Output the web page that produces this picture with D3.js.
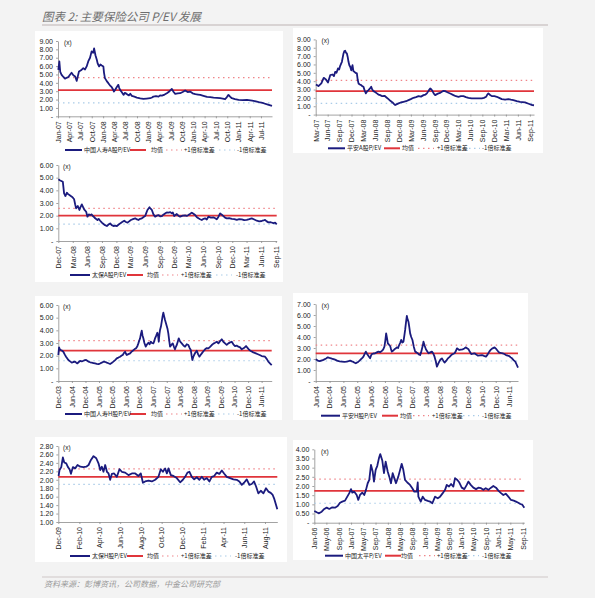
<!DOCTYPE html>
<html><head><meta charset="utf-8">
<script src="https://cdn.jsdelivr.net/npm/d3@7"></script>
<style>body{margin:0;background:#f3f3f3;} svg{display:block}</style>
</head><body><svg id="c" width="595" height="598"></svg>
<script>
// ---------- DATA (decimal year, P/EV) ----------
const chinaLifeA = [[2007.007,5.56],[2007.03,6.55],[2007.05,5.3],[2007.08,4.96],[2007.12,4.7],[2007.155,4.5],[2007.19,4.6],[2007.23,4.7],[2007.27,5.0],[2007.30,5.2],[2007.34,4.9],[2007.38,4.75],[2007.415,4.24],[2007.44,4.8],[2007.465,5.36],[2007.51,5.5],[2007.56,5.76],[2007.60,5.6],[2007.635,5.96],[2007.67,6.56],[2007.71,7.0],[2007.745,7.76],[2007.78,7.6],[2007.80,8.12],[2007.83,7.3],[2007.86,6.76],[2007.88,6.3],[2007.91,5.96],[2007.94,6.2],[2007.97,6.08],[2008.005,5.96],[2008.02,5.2],[2008.04,4.56],[2008.08,4.2],[2008.115,3.96],[2008.15,3.7],[2008.19,3.48],[2008.22,3.2],[2008.24,2.96],[2008.27,3.2],[2008.30,3.48],[2008.335,3.76],[2008.355,3.4],[2008.375,3.16],[2008.41,2.9],[2008.45,2.56],[2008.48,2.8],[2008.52,2.68],[2008.57,2.5],[2008.60,2.7],[2008.635,2.44],[2008.69,2.35],[2008.745,2.24],[2008.82,2.15],[2008.89,2.08],[2008.96,2.12],[2009.04,2.16],[2009.08,2.25],[2009.11,2.35],[2009.17,2.4],[2009.225,2.35],[2009.26,2.5],[2009.30,2.47],[2009.36,2.6],[2009.41,2.76],[2009.47,3.0],[2009.52,3.28],[2009.56,2.9],[2009.595,2.68],[2009.65,2.75],[2009.705,2.76],[2009.76,2.9],[2009.815,3.08],[2009.87,2.9],[2009.925,2.96],[2009.98,2.75],[2010.04,2.64],[2010.10,2.6],[2010.15,2.56],[2010.22,2.45],[2010.30,2.32],[2010.37,2.3],[2010.445,2.24],[2010.52,2.2],[2010.59,2.16],[2010.65,2.1],[2010.70,2.04],[2010.74,2.3],[2010.775,2.56],[2010.81,2.35],[2010.85,2.16],[2010.92,2.05],[2011.0,1.96],[2011.09,1.93],[2011.185,1.96],[2011.3,1.88],[2011.405,1.76],[2011.48,1.65],[2011.55,1.56],[2011.65,1.4],[2011.74,1.24]];
const pingAnA = [[2007.167,3.61],[2007.22,3.41],[2007.28,3.73],[2007.33,4.40],[2007.377,4.21],[2007.42,3.85],[2007.467,4.72],[2007.515,4.8],[2007.545,4.6],[2007.572,5.12],[2007.60,5.0],[2007.63,5.52],[2007.655,5.4],[2007.677,5.84],[2007.713,6.32],[2007.747,7.32],[2007.765,7.6],[2007.783,7.64],[2007.80,7.4],[2007.818,7.32],[2007.835,6.9],[2007.852,6.32],[2007.87,5.9],[2007.888,5.72],[2007.91,5.3],[2007.936,5.92],[2007.955,5.2],[2007.978,5.12],[2008.0,5.0],[2008.028,4.93],[2008.045,4.2],[2008.062,3.73],[2008.09,3.6],[2008.119,3.53],[2008.14,3.4],[2008.167,3.33],[2008.19,2.9],[2008.217,2.54],[2008.245,2.8],[2008.272,2.93],[2008.30,3.1],[2008.329,3.33],[2008.35,3.0],[2008.377,2.81],[2008.41,2.7],[2008.448,2.54],[2008.48,2.4],[2008.518,2.33],[2008.56,2.2],[2008.608,2.25],[2008.65,2.05],[2008.692,1.85],[2008.73,1.65],[2008.776,1.46],[2008.81,1.25],[2008.833,1.14],[2008.87,1.25],[2008.902,1.34],[2008.95,1.45],[2009.007,1.53],[2009.06,1.6],[2009.112,1.73],[2009.16,1.85],[2009.217,2.01],[2009.27,2.1],[2009.323,2.21],[2009.375,2.15],[2009.428,2.33],[2009.47,2.4],[2009.499,2.54],[2009.54,2.9],[2009.568,3.13],[2009.595,3.0],[2009.617,2.81],[2009.645,2.5],[2009.673,2.33],[2009.71,2.45],[2009.743,2.54],[2009.78,2.6],[2009.814,2.73],[2009.85,2.85],[2009.883,2.81],[2009.92,2.7],[2009.953,2.61],[2010.0,2.5],[2010.058,2.33],[2010.11,2.2],[2010.163,2.13],[2010.215,2.2],[2010.268,2.21],[2010.32,2.1],[2010.373,2.01],[2010.44,1.95],[2010.514,1.94],[2010.58,1.94],[2010.654,1.94],[2010.70,2.0],[2010.745,2.13],[2010.77,2.4],[2010.793,2.54],[2010.83,2.35],[2010.865,2.21],[2010.92,2.2],[2010.97,2.13],[2011.02,2.0],[2011.075,1.85],[2011.145,1.8],[2011.213,1.85],[2011.265,1.78],[2011.318,1.73],[2011.39,1.62],[2011.459,1.53],[2011.51,1.5],[2011.564,1.46],[2011.64,1.3],[2011.717,1.14],[2011.753,1.12]];
const cpicA = [[2007.917,4.87],[2007.94,4.8],[2007.958,4.76],[2007.993,4.68],[2008.015,3.76],[2008.038,3.55],[2008.062,3.81],[2008.085,3.7],[2008.107,3.63],[2008.148,3.5],[2008.17,3.4],[2008.188,3.29],[2008.205,2.9],[2008.222,2.58],[2008.251,2.76],[2008.279,2.45],[2008.30,2.7],[2008.32,2.89],[2008.34,2.7],[2008.36,2.50],[2008.395,2.31],[2008.417,1.92],[2008.44,2.1],[2008.464,2.05],[2008.49,2.1],[2008.51,1.97],[2008.53,1.9],[2008.55,1.79],[2008.589,1.66],[2008.61,1.75],[2008.636,1.6],[2008.665,1.45],[2008.693,1.34],[2008.72,1.25],[2008.751,1.18],[2008.78,1.3],[2008.808,1.39],[2008.835,1.25],[2008.865,1.18],[2008.895,1.22],[2008.924,1.18],[2008.95,1.28],[2008.98,1.39],[2009.015,1.5],[2009.05,1.6],[2009.08,1.5],[2009.107,1.45],[2009.135,1.55],[2009.165,1.66],[2009.20,1.72],[2009.24,1.79],[2009.27,1.7],[2009.296,1.66],[2009.325,1.75],[2009.355,1.79],[2009.385,1.9],[2009.412,1.97],[2009.43,2.2],[2009.451,2.45],[2009.486,2.66],[2009.505,2.55],[2009.527,2.45],[2009.555,2.1],[2009.584,1.92],[2009.61,2.0],[2009.641,2.05],[2009.67,1.95],[2009.7,1.97],[2009.73,2.1],[2009.757,2.18],[2009.785,2.25],[2009.813,2.24],[2009.845,2.28],[2009.872,2.18],[2009.89,2.25],[2009.912,1.97],[2009.935,2.05],[2009.958,2.13],[2009.985,2.0],[2010.015,1.92],[2010.06,2.0],[2010.101,2.03],[2010.13,1.98],[2010.158,2.05],[2010.19,2.15],[2010.217,2.24],[2010.245,2.15],[2010.274,2.05],[2010.30,1.9],[2010.331,1.79],[2010.36,1.72],[2010.389,1.66],[2010.42,1.75],[2010.446,1.79],[2010.475,1.7],[2010.503,1.92],[2010.545,1.85],[2010.589,1.87],[2010.62,1.8],[2010.648,1.71],[2010.675,1.9],[2010.705,2.18],[2010.735,2.08],[2010.762,1.97],[2010.79,1.85],[2010.82,1.79],[2010.86,1.8],[2010.907,1.74],[2010.95,1.72],[2010.993,1.66],[2011.035,1.72],[2011.079,1.71],[2011.12,1.65],[2011.165,1.66],[2011.21,1.72],[2011.251,1.79],[2011.295,1.7],[2011.338,1.6],[2011.38,1.55],[2011.424,1.58],[2011.455,1.62],[2011.481,1.66],[2011.51,1.55],[2011.538,1.47],[2011.58,1.48],[2011.624,1.42],[2011.655,1.45],[2011.682,1.32]];
const chinaLifeH = [[2003.917,2.05],[2003.943,2.66],[2003.97,2.5],[2004.005,2.45],[2004.05,2.4],[2004.1,2.31],[2004.15,2.1],[2004.2,1.92],[2004.24,1.8],[2004.285,1.66],[2004.35,1.55],[2004.411,1.45],[2004.47,1.5],[2004.533,1.53],[2004.575,1.45],[2004.618,1.39],[2004.67,1.5],[2004.717,1.58],[2004.78,1.55],[2004.839,1.6],[2004.89,1.65],[2004.938,1.66],[2004.98,1.6],[2005.023,1.53],[2005.09,1.48],[2005.149,1.45],[2005.21,1.42],[2005.27,1.39],[2005.33,1.36],[2005.392,1.34],[2005.45,1.38],[2005.517,1.45],[2005.56,1.5],[2005.602,1.53],[2005.65,1.5],[2005.702,1.45],[2005.76,1.4],[2005.823,1.34],[2005.88,1.42],[2005.945,1.53],[2006.01,1.65],[2006.070,1.79],[2006.13,1.85],[2006.192,1.92],[2006.24,2.0],[2006.291,2.05],[2006.33,2.2],[2006.376,2.31],[2006.41,2.15],[2006.439,2.05],[2006.50,2.12],[2006.561,2.18],[2006.61,2.3],[2006.66,2.39],[2006.72,2.5],[2006.782,2.58],[2006.83,2.75],[2006.867,2.97],[2006.90,3.2],[2006.93,3.37],[2006.96,3.7],[2006.992,3.97],[2007.02,3.6],[2007.051,3.37],[2007.09,3.0],[2007.14,2.71],[2007.19,2.9],[2007.236,3.02],[2007.28,2.9],[2007.324,3.1],[2007.37,3.0],[2007.42,2.97],[2007.455,3.15],[2007.483,3.37],[2007.53,3.6],[2007.567,3.81],[2007.60,3.5],[2007.619,3.1],[2007.645,3.7],[2007.667,4.03],[2007.70,4.3],[2007.73,4.68],[2007.76,5.1],[2007.789,5.39],[2007.82,5.1],[2007.851,4.81],[2007.88,4.6],[2007.914,4.34],[2007.945,4.1],[2007.973,3.76],[2008.005,3.2],[2008.036,2.71],[2008.085,2.85],[2008.135,2.97],[2008.18,2.7],[2008.22,2.5],[2008.25,2.7],[2008.283,2.84],[2008.32,3.1],[2008.357,3.37],[2008.41,3.1],[2008.467,2.97],[2008.53,2.8],[2008.589,2.71],[2008.65,2.9],[2008.711,2.84],[2008.76,2.6],[2008.799,2.45],[2008.83,2.0],[2008.858,1.66],[2008.89,1.9],[2008.921,2.05],[2008.97,2.25],[2009.02,2.39],[2009.07,2.1],[2009.116,1.92],[2009.16,2.05],[2009.205,2.18],[2009.265,2.35],[2009.326,2.5],[2009.39,2.6],[2009.448,2.58],[2009.51,2.7],[2009.573,2.84],[2009.635,2.95],[2009.695,3.02],[2009.76,3.1],[2009.817,2.97],[2009.88,3.15],[2009.942,3.29],[2010.0,3.1],[2010.064,2.97],[2010.125,2.85],[2010.186,2.97],[2010.25,3.05],[2010.311,3.1],[2010.37,2.9],[2010.432,2.76],[2010.49,2.8],[2010.554,2.71],[2010.62,2.65],[2010.679,2.5],[2010.76,2.6],[2010.838,2.76],[2010.90,2.6],[2010.96,2.45],[2011.03,2.35],[2011.107,2.26],[2011.18,2.2],[2011.255,2.13],[2011.34,2.05],[2011.417,1.97],[2011.48,1.95],[2011.538,1.92],[2011.60,1.75],[2011.66,1.53],[2011.72,1.4],[2011.785,1.26]];
const pingAnH = [[2004.417,1.97],[2004.46,1.9],[2004.511,1.82],[2004.56,1.8],[2004.609,1.85],[2004.67,1.9],[2004.728,1.97],[2004.79,2.05],[2004.851,2.15],[2004.91,2.1],[2004.97,2.06],[2005.03,2.0],[2005.09,1.97],[2005.15,1.9],[2005.212,1.82],[2005.28,1.78],[2005.357,1.76],[2005.45,1.74],[2005.538,1.76],[2005.60,1.8],[2005.657,1.85],[2005.72,1.78],[2005.776,1.73],[2005.82,1.66],[2005.863,1.61],[2005.91,1.68],[2005.957,1.76],[2006.0,1.85],[2006.055,2.0],[2006.10,2.1],[2006.138,2.21],[2006.18,2.45],[2006.225,2.67],[2006.26,2.5],[2006.297,2.36],[2006.34,2.2],[2006.38,2.06],[2006.41,2.3],[2006.441,2.45],[2006.50,2.5],[2006.561,2.52],[2006.62,2.6],[2006.68,2.67],[2006.74,2.62],[2006.803,2.73],[2006.85,2.85],[2006.897,3.12],[2006.93,3.7],[2006.959,4.33],[2006.99,3.9],[2007.02,3.42],[2007.06,3.3],[2007.103,3.18],[2007.135,2.9],[2007.165,2.67],[2007.21,2.75],[2007.259,2.88],[2007.30,2.95],[2007.345,3.06],[2007.39,3.0],[2007.429,3.27],[2007.47,3.5],[2007.501,3.73],[2007.545,3.5],[2007.584,3.57],[2007.615,4.1],[2007.645,4.64],[2007.675,5.3],[2007.707,5.91],[2007.735,5.6],[2007.765,5.39],[2007.795,4.9],[2007.826,4.33],[2007.865,4.0],[2007.909,3.73],[2007.96,3.1],[2008.007,2.67],[2008.055,2.6],[2008.104,2.52],[2008.15,2.4],[2008.188,2.36],[2008.22,2.6],[2008.249,2.88],[2008.28,3.2],[2008.307,3.57],[2008.35,3.2],[2008.394,2.88],[2008.44,2.7],[2008.488,2.52],[2008.55,2.6],[2008.611,2.67],[2008.66,2.5],[2008.705,2.21],[2008.75,1.8],[2008.792,1.3],[2008.835,1.55],[2008.875,1.76],[2008.92,1.95],[2008.972,2.06],[2009.02,1.85],[2009.066,1.67],[2009.13,1.85],[2009.189,2.06],[2009.25,2.2],[2009.308,2.36],[2009.37,2.45],[2009.428,2.52],[2009.47,2.7],[2009.515,2.97],[2009.555,2.9],[2009.598,2.82],[2009.66,2.85],[2009.717,2.88],[2009.78,2.95],[2009.84,3.06],[2009.89,2.95],[2009.934,2.88],[2009.98,2.65],[2010.031,2.45],[2010.09,2.48],[2010.151,2.52],[2010.21,2.4],[2010.274,2.3],[2010.35,2.33],[2010.418,2.36],[2010.49,2.28],[2010.563,2.21],[2010.62,2.4],[2010.682,2.67],[2010.74,2.85],[2010.802,2.97],[2010.874,3.06],[2010.92,2.95],[2010.961,2.82],[2011.0,2.7],[2011.044,2.58],[2011.10,2.55],[2011.163,2.52],[2011.225,2.45],[2011.286,2.36],[2011.35,2.3],[2011.406,2.27],[2011.455,2.15],[2011.503,2.06],[2011.56,1.9],[2011.623,1.76],[2011.67,1.5],[2011.72,1.21]];
const cpicH = [[2009.917,2.09],[2009.925,2.23],[2009.939,2.30],[2009.952,2.53],[2009.963,2.41],[2009.979,2.39],[2009.993,2.30],[2010.006,2.25],[2010.017,2.14],[2010.033,2.30],[2010.051,2.27],[2010.07,2.35],[2010.092,2.31],[2010.118,2.30],[2010.14,2.31],[2010.159,2.35],[2010.178,2.47],[2010.199,2.56],[2010.221,2.51],[2010.239,2.39],[2010.253,2.23],[2010.266,2.31],[2010.279,2.19],[2010.293,2.35],[2010.307,2.19],[2010.32,2.15],[2010.333,2.0],[2010.347,2.14],[2010.365,2.15],[2010.387,2.07],[2010.408,2.25],[2010.427,2.19],[2010.454,2.17],[2010.481,2.11],[2010.508,2.15],[2010.535,2.15],[2010.561,2.09],[2010.58,2.15],[2010.597,1.93],[2010.615,1.96],[2010.642,1.98],[2010.669,1.96],[2010.696,2.0],[2010.722,2.07],[2010.741,2.25],[2010.758,2.19],[2010.776,2.27],[2010.79,2.15],[2010.803,2.27],[2010.822,2.11],[2010.843,2.09],[2010.87,2.04],[2010.897,1.94],[2010.919,2.0],[2010.937,2.07],[2010.956,2.17],[2010.972,2.19],[2010.991,2.07],[2011.01,2.01],[2011.031,2.06],[2011.052,2.0],[2011.072,2.07],[2011.09,2.0],[2011.112,2.04],[2011.133,1.96],[2011.152,2.07],[2011.171,2.09],[2011.192,2.17],[2011.213,2.14],[2011.233,2.22],[2011.251,2.15],[2011.273,2.07],[2011.3,2.04],[2011.326,2.01],[2011.353,2.0],[2011.374,1.96],[2011.394,1.88],[2011.412,1.93],[2011.434,2.01],[2011.455,1.88],[2011.474,1.90],[2011.493,1.96],[2011.509,1.84],[2011.527,1.68],[2011.547,1.74],[2011.568,1.68],[2011.589,1.80],[2011.608,1.72],[2011.627,1.69],[2011.643,1.64],[2011.654,1.56],[2011.67,1.40],[2011.68,1.30]];
const taiping = [[2006.0,0.64],[2006.065,0.57],[2006.128,0.51],[2006.201,0.6],[2006.272,0.75],[2006.337,0.82],[2006.408,0.75],[2006.489,0.84],[2006.563,0.82],[2006.636,0.91],[2006.699,1.09],[2006.761,1.15],[2006.835,1.2],[2006.897,1.42],[2006.952,1.61],[2006.998,1.83],[2007.033,1.64],[2007.088,1.69],[2007.153,1.51],[2007.196,1.24],[2007.243,1.51],[2007.305,1.64],[2007.359,1.51],[2007.406,1.79],[2007.452,2.15],[2007.495,2.33],[2007.542,3.15],[2007.588,2.79],[2007.623,2.24],[2007.669,2.88],[2007.713,3.1],[2007.759,3.52],[2007.794,3.74],[2007.849,3.39],[2007.895,2.7],[2007.941,3.33],[2007.996,2.79],[2008.039,2.51],[2008.085,2.15],[2008.132,2.7],[2008.175,2.43],[2008.221,2.15],[2008.284,2.51],[2008.338,2.92],[2008.376,3.21],[2008.42,2.88],[2008.466,2.33],[2008.529,2.19],[2008.602,2.06],[2008.664,1.88],[2008.719,1.69],[2008.784,1.69],[2008.811,2.19],[2008.828,1.42],[2008.893,1.15],[2008.947,1.42],[2009.01,1.24],[2009.083,1.19],[2009.146,1.15],[2009.208,1.06],[2009.282,1.42],[2009.355,1.33],[2009.418,1.42],[2009.491,1.61],[2009.554,1.79],[2009.6,2.06],[2009.662,1.97],[2009.717,2.11],[2009.779,1.97],[2009.825,2.43],[2009.888,2.33],[2009.942,2.19],[2010.008,1.91],[2010.078,1.83],[2010.144,2.06],[2010.187,2.24],[2010.252,2.06],[2010.323,1.91],[2010.396,1.83],[2010.459,1.91],[2010.532,1.88],[2010.595,1.79],[2010.66,1.88],[2010.731,1.79],[2010.804,1.91],[2010.867,2.0],[2010.94,1.91],[2011.003,1.75],[2011.076,1.61],[2011.139,1.51],[2011.204,1.58],[2011.275,1.42],[2011.348,1.24],[2011.421,1.2],[2011.484,1.15],[2011.546,1.09],[2011.601,1.02],[2011.655,0.98],[2011.709,0.82]];

// [mean, +1 std, -1 std]
const chinaLifeAStats = [3.12, 4.63, 1.60];
const pingAnAStats = [2.81, 4.09, 1.34];
const cpicAStats = [2.00, 2.58, 1.34];
const chinaLifeHStats = [2.40, 3.18, 1.60];
const pingAnHStats = [2.52, 3.27, 1.82];
const cpicHStats = [2.07, 2.26, 1.89];
const taipingStats = [1.73, 2.37, 1.06];

const seriesNames = ["中国人寿A股P/EV","平安A股P/EV","太保A股P/EV","中国人寿H股P/EV","平安H股P/EV","太保H股P/EV","中国太平P/EV"];
const legendLabels = ["均值","+1倍标准差","-1倍标准差"];

const ticksP1 = ["Jan-07","Apr-07","Jul-07","Oct-07","Jan-08","Apr-08","Jul-08","Oct-08","Jan-09","Apr-09","Jul-09","Oct-09","Jan-10","Apr-10","Jul-10","Oct-10","Jan-11","Apr-11","Jul-11"];
const ticksP2 = ["Mar-07","Jun-07","Sep-07","Dec-07","Mar-08","Jun-08","Sep-08","Dec-08","Mar-09","Jun-09","Sep-09","Dec-09","Mar-10","Jun-10","Sep-10","Dec-10","Mar-11","Jun-11","Sep-11"];
const ticksP3 = ["Dec-07","Mar-08","Jun-08","Sep-08","Dec-08","Mar-09","Jun-09","Sep-09","Dec-09","Mar-10","Jun-10","Sep-10","Dec-10","Mar-11","Jun-11","Sep-11"];
const ticksP4 = ["Dec-03","Jun-04","Dec-04","Jun-05","Dec-05","Jun-06","Dec-06","Jun-07","Dec-07","Jun-08","Dec-08","Jun-09","Dec-09","Jun-10","Dec-10","Jun-11"];
const ticksP5 = ["Jun-04","Dec-04","Jun-05","Dec-05","Jun-06","Dec-06","Jun-07","Dec-07","Jun-08","Dec-08","Jun-09","Dec-09","Jun-10","Dec-10","Jun-11"];
const ticksP6 = ["Dec-09","Feb-10","Apr-10","Jun-10","Aug-10","Oct-10","Dec-10","Feb-11","Apr-11","Jun-11","Aug-11"];
const ticksP7 = ["Jan-06","May-06","Sep-06","Jan-07","May-07","Sep-07","Jan-08","May-08","Sep-08","Jan-09","May-09","Sep-09","Jan-10","May-10","Sep-10","Jan-11","May-11","Sep-11"];

const yTicks9 = [0,1,2,3,4,5,6,7,8,9];
const yTicks6 = [0,1,2,3,4,5,6];
const yTicks7 = [0,1,2,3,4,5,6,7];
const yTicksP6 = [1.0,1.2,1.4,1.6,1.8,2.0,2.2,2.4,2.6,2.8];
const yTicksP7 = [0,0.5,1.0,1.5,2.0,2.5,3.0,3.5,4.0];

// ---------- LAYOUT ----------
const panels = [
 {name:seriesNames[0], data:chinaLifeA, stats:chinaLifeAStats, yTicks:yTicks9, xTicks:ticksP1, box:[35,31,248,124], x0:58, x1:272, yb:116.3, yt:41, xl:[64,44.5], ly:150, lg:[65,84,130,151,166,184,219,237]},
 {name:seriesNames[1], data:pingAnA, stats:pingAnAStats, yTicks:yTicks9, xTicks:ticksP2, box:[293,28,250,125], x0:315.7, x1:534, yb:114.6, yt:39.4, xl:[321.5,42.5], ly:148.3, lg:[328,347,384,402,418,437,464,482]},
 {name:seriesNames[2], data:cpicA, stats:cpicAStats, yTicks:yTicks6, xTicks:ticksP3, box:[35,155,248,127], x0:58.3, x1:276.7, yb:241, yt:165, xl:[63,168.5], ly:275, lg:[70,92,127,147,162,181,216,236]},
 {name:seriesNames[3], data:chinaLifeH, stats:chinaLifeHStats, yTicks:yTicks6, xTicks:ticksP4, box:[35,296,247,124], x0:58.3, x1:271.7, yb:381, yt:305, xl:[63,308.5], ly:414, lg:[65,84,130,151,166,184,218,237]},
 {name:seriesNames[4], data:pingAnH, stats:pingAnHStats, yTicks:yTicks7, xTicks:ticksP5, box:[293,293,235,127], x0:315.7, x1:518, yb:381, yt:304, xl:[321.5,307.5], ly:415.7, lg:[321,342,382,400,413,432,463,482]},
 {name:seriesNames[5], data:cpicH, stats:cpicHStats, yTicks:yTicksP6, xTicks:ticksP6, box:[35,437,252,125], x0:58.3, x1:277.3, yb:522, yt:446, xl:[63,449.5], ly:556, lg:[70,92,127,147,162,181,215,235], yMin:1.0},
 {name:seriesNames[6], data:taiping, stats:taipingStats, yTicks:yTicksP7, xTicks:ticksP7, box:[293,440,240,120], x0:314.3, x1:524.3, yb:522.7, yt:449.3, xl:[321,453.5], ly:555.7, lg:[325,345,385,401,419,437,463,482]}
];

const C = {series:"#1b1b7e", mean:"#e0353b", plus:"#f0858a", minus:"#a9cbe8", axis:"#8c8c8c", text:"#222"};
const FONT = "'Liberation Sans', Arial, sans-serif";
const CJK = "'Noto Sans CJK SC', sans-serif";

function fromYear(y){ const yr=Math.floor(y); const a=new Date(yr,0,1), b=new Date(yr+1,0,1); return new Date(+a + (y-yr)*(b-a)); }
const parseTick = d3.timeParse("%b-%y");

const svg = d3.select("#c");

// Title
svg.append("text").attr("x",42).attr("y",21).attr("font-family",CJK).attr("font-size",11.5)
  .attr("font-style","italic").attr("fill","#6e6e6e").text("图表 2: 主要保险公司 P/EV 发展");
svg.append("line").attr("x1",42).attr("x2",548).attr("y1",25).attr("y2",25).attr("stroke","#cfc8c8").attr("stroke-width",1.5);

// Footer
svg.append("line").attr("x1",42).attr("x2",548).attr("y1",577).attr("y2",577).attr("stroke","#cfc8c8").attr("stroke-width",1.2);
svg.append("text").attr("x",44).attr("y",587).attr("font-family",CJK).attr("font-size",8)
  .attr("font-style","italic").attr("fill","#9a9a9a").text("资料来源：彭博资讯，公司数据，中金公司研究部");

panels.forEach(p => {
  const g = svg.append("g");
  g.append("rect").attr("x",p.box[0]).attr("y",p.box[1]).attr("width",p.box[2]).attr("height",p.box[3]).attr("fill","#fff");

  const yMin = p.yMin !== undefined ? p.yMin : 0;
  const yMax = p.yTicks[p.yTicks.length-1];
  const x = d3.scaleTime().domain([parseTick(p.xTicks[0]), fromYear(p.data[p.data.length-1][0])]).range([p.x0, p.x1]);
  const y = d3.scaleLinear().domain([yMin, yMax]).range([p.yb, p.yt]);

  // y axis
  const ya = g.append("g").attr("transform",`translate(${p.x0},0)`)
    .call(d3.axisLeft(y).tickValues(p.yTicks).tickSize(2).tickSizeOuter(0)
      .tickFormat(v => (v===0 ? "-" : d3.format(".2f")(v))));
  ya.select(".domain").attr("stroke",C.axis).attr("stroke-width",0.8);
  ya.selectAll(".tick line").attr("stroke",C.axis).attr("stroke-width",0.8);
  ya.selectAll(".tick text").attr("font-family",FONT).attr("font-size",7).attr("fill",C.text).attr("x",-5);

  // x axis
  const xa = g.append("g").attr("transform",`translate(0,${p.yb})`)
    .call(d3.axisBottom(x).tickValues(p.xTicks.map(parseTick)).tickSize(2).tickSizeOuter(0)
      .tickFormat((d,i) => p.xTicks[i]));
  xa.select(".domain").attr("stroke",C.axis).attr("stroke-width",0.8);
  xa.selectAll(".tick line").attr("stroke",C.axis).attr("stroke-width",0.8);
  xa.selectAll(".tick text").attr("font-family",FONT).attr("font-size",7).attr("fill",C.text)
    .attr("transform","rotate(-90)").attr("x",-5).attr("y",0).attr("dy","0.33em").attr("text-anchor","end");

  // (x)
  g.append("text").attr("x",p.xl[0]).attr("y",p.xl[1]).attr("font-family",FONT).attr("font-size",6.5).attr("fill",C.text).text("(x)");

  // reference lines
  const [mean, plus, minus] = p.stats;
  g.append("line").attr("x1",p.x0).attr("x2",p.x1).attr("y1",y(plus)).attr("y2",y(plus))
    .attr("stroke",C.plus).attr("stroke-width",1.2).attr("stroke-dasharray","1.5,3.5");
  g.append("line").attr("x1",p.x0).attr("x2",p.x1).attr("y1",y(minus)).attr("y2",y(minus))
    .attr("stroke",C.minus).attr("stroke-width",1.2).attr("stroke-dasharray","1.5,3.5");
  g.append("line").attr("x1",p.x0).attr("x2",p.x1).attr("y1",y(mean)).attr("y2",y(mean))
    .attr("stroke",C.mean).attr("stroke-width",1.8);

  // series
  const line = d3.line().x(d => x(fromYear(d[0]))).y(d => y(d[1]));
  g.append("path").datum(p.data).attr("d",line).attr("fill","none")
    .attr("stroke",C.series).attr("stroke-width",1.8).attr("stroke-linejoin","round");

  // legend
  const L = p.lg, ly = p.ly;
  g.append("line").attr("x1",L[0]).attr("x2",L[1]-2).attr("y1",ly).attr("y2",ly).attr("stroke",C.series).attr("stroke-width",2);
  g.append("line").attr("x1",L[2]).attr("x2",L[2]+16).attr("y1",ly).attr("y2",ly).attr("stroke",C.mean).attr("stroke-width",2);
  g.append("line").attr("x1",L[4]).attr("x2",L[4]+16).attr("y1",ly).attr("y2",ly).attr("stroke",C.plus).attr("stroke-width",1.2).attr("stroke-dasharray","1.5,3.5");
  g.append("line").attr("x1",L[6]).attr("x2",L[6]+16).attr("y1",ly).attr("y2",ly).attr("stroke",C.minus).attr("stroke-width",1.2).attr("stroke-dasharray","1.5,3.5");
  const txt = [[L[1],p.name],[L[3],legendLabels[0]],[L[5],legendLabels[1]],[L[7],legendLabels[2]]];
  txt.forEach(([tx,t]) => g.append("text").attr("x",tx).attr("y",ly).attr("dy","0.35em")
    .attr("font-family",CJK).attr("font-size",6).attr("fill",C.text).text(t));
});
</script>
</body></html>
